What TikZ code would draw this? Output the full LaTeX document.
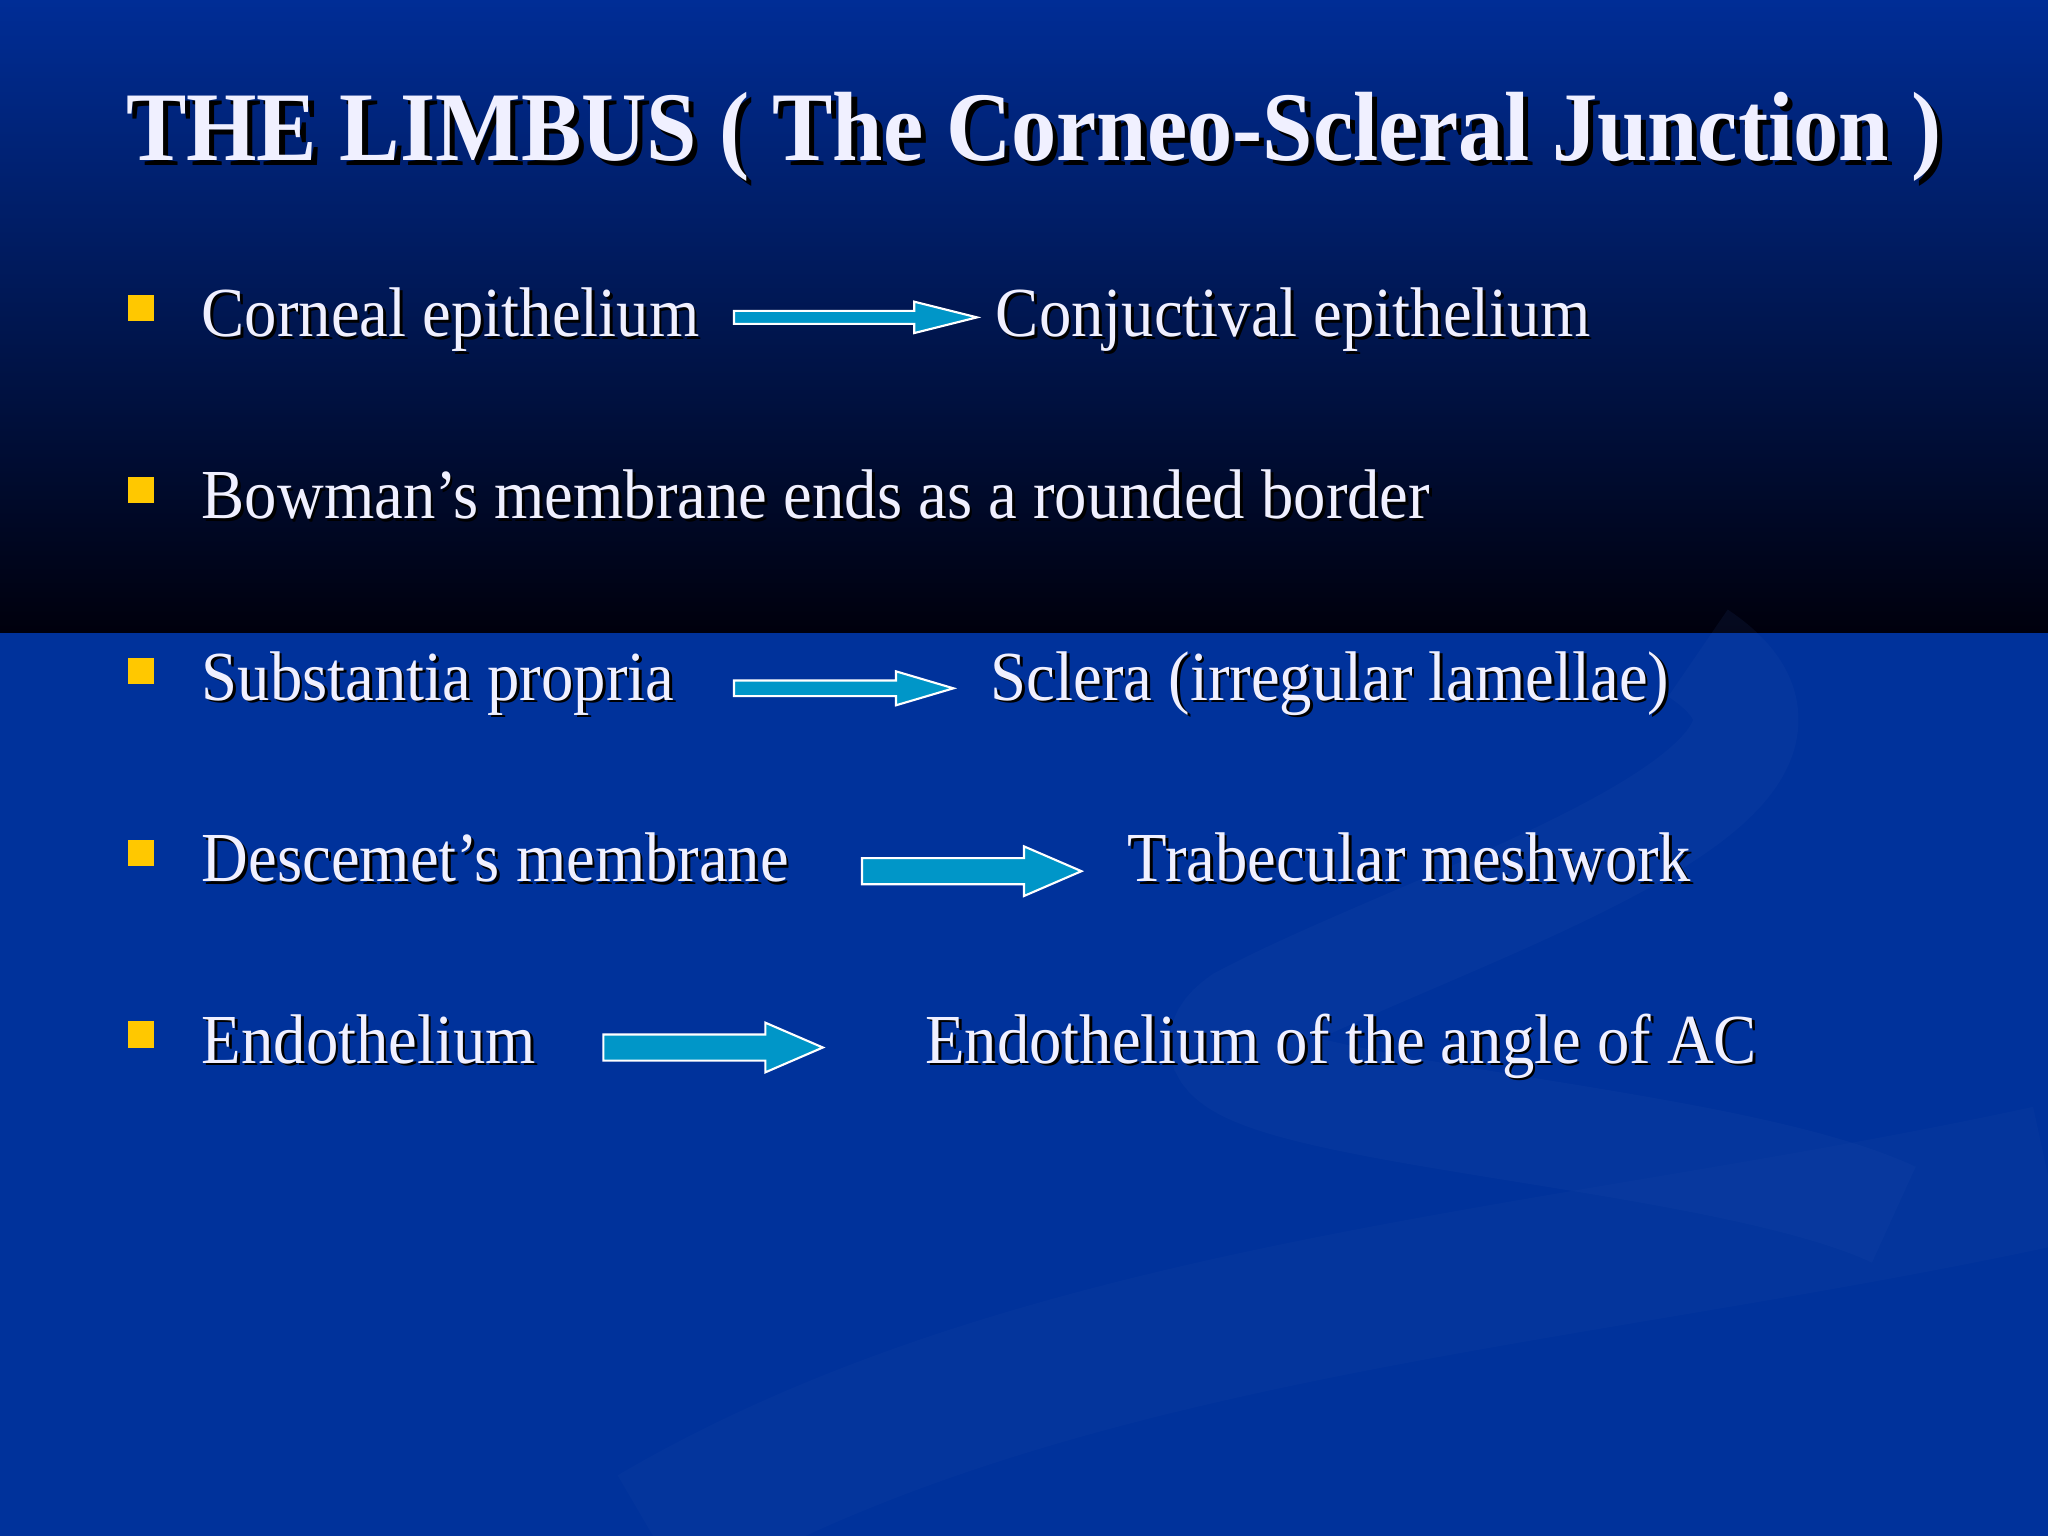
\documentclass[tikz,border=0pt]{standalone}
\usepackage{fontspec}
\setmainfont{Liberation Serif}[FakeStretch=0.92]
\definecolor{bgblue}{RGB}{0,50,155}
\definecolor{topblue}{RGB}{0,45,150}
\definecolor{arrcyan}{RGB}{0,150,200}
\definecolor{bul}{RGB}{255,200,0}
\definecolor{txt}{RGB}{240,240,255}
\tikzset{
  body/.style={anchor=base west,text=txt,font=\fontsize{20pt}{24pt}\selectfont,inner sep=0},
  shad/.style={anchor=base west,text=black,font=\fontsize{20pt}{24pt}\selectfont,inner sep=0},
  bullet/.style={fill=bul,draw=none},
  barrow/.style={fill=arrcyan,draw=white,line width=0.6pt}
}
\newcommand{\bline}[3]{%
  \fill[bullet] (98,#1-32) rectangle (118,#1-12);
  \node[shad] at (156,#1+2) {#2};
  \node[body] (#3) at (154,#1) {#2};}
\newcommand{\blockarrow}[6]{% x1 x2 ycenter shafthalf headhalf headlen
  \draw[barrow] (#1,#3-#4) -- (#2-#6,#3-#4) -- (#2-#6,#3-#5) -- (#2,#3) -- (#2-#6,#3+#5) -- (#2-#6,#3+#4) -- (#1,#3+#4) -- cycle;}
\begin{document}
\begin{tikzpicture}[x=0.013061cm,y=-0.013061cm]
\useasboundingbox (0,0) rectangle (1568,1176);
\fill[bgblue] (0,0) rectangle (1568,1176);
\shade[top color=topblue,bottom color=black!95!blue] (0,0) rectangle (1568,484);
\draw[bgblue!80!white,opacity=0.1,line width=30pt] (1300,500) .. controls (1450,600) and (1100,700) .. (950,780) .. controls (850,850) and (1300,860) .. (1450,930);
\draw[bgblue!80!white,opacity=0.08,line width=40pt] (500,1176) .. controls (800,1000) and (1200,980) .. (1568,900);
\node[anchor=base west,text=black,font=\bfseries\fontsize{28pt}{32pt}\selectfont,inner sep=0] at (100,127) {THE LIMBUS ( The Corneo-Scleral Junction )};
\node[anchor=base west,text=txt,font=\bfseries\fontsize{28pt}{32pt}\selectfont,inner sep=0] (title) at (96,123) {THE LIMBUS ( The Corneo-Scleral Junction )};
\bline{258}{Corneal epithelium}{a1}
\node[shad] at (764,260) {Conjuctival epithelium};
\node[body] (b1) at (762,258) {Conjuctival epithelium};
\blockarrow{562}{748}{243}{5}{12}{48}
\bline{397}{Bowman’s membrane ends as a rounded border}{a2}
\bline{536}{Substantia propria}{a3}
\node[shad] at (760,538) {Sclera (irregular lamellae)};
\node[body] (b3) at (758,536) {Sclera (irregular lamellae)};
\blockarrow{562}{730}{527}{6}{13}{44}
\bline{675}{Descemet’s membrane}{a4}
\node[shad] at (865,677) {Trabecular meshwork};
\node[body] (b4) at (863,675) {Trabecular meshwork};
\blockarrow{660}{828}{667}{10}{19}{44}
\bline{814}{Endothelium}{a5}
\node[shad] at (710,816) {Endothelium of the angle of AC};
\node[body] (b5) at (708,814) {Endothelium of the angle of AC};
\blockarrow{462}{630}{802}{10}{19}{44}
\end{tikzpicture}
\end{document}
